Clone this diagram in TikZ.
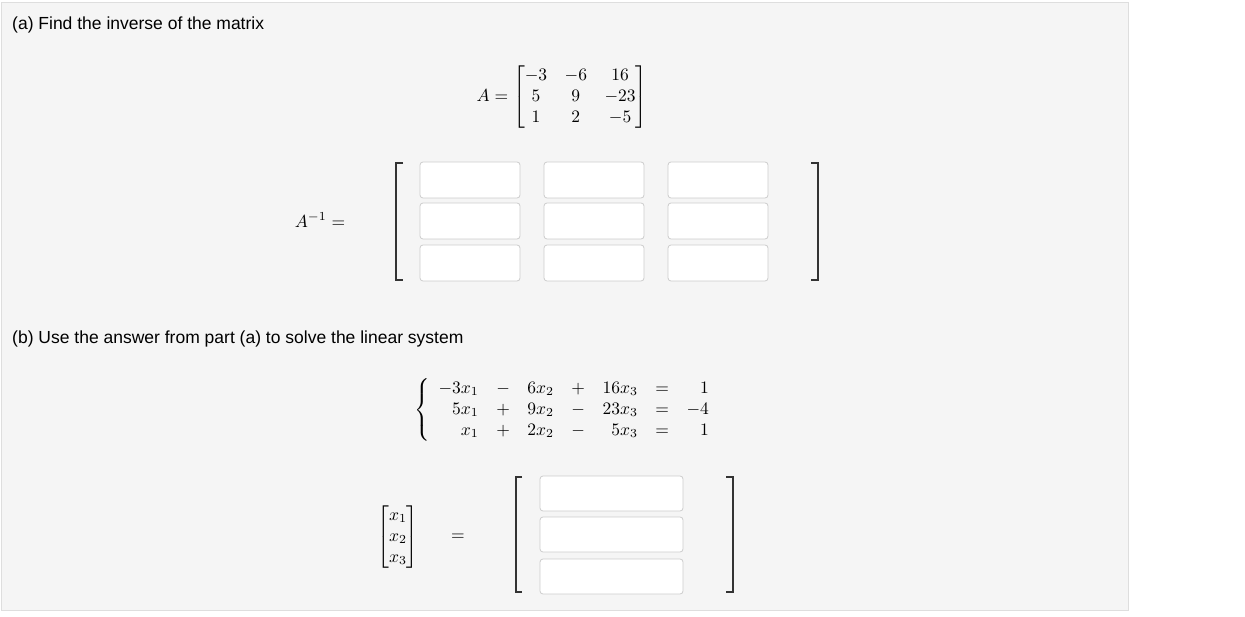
\documentclass[tikz,border=0pt]{standalone}
\usepackage{amsmath}
\usepackage{graphicx}
\usepackage{fontspec}
\newfontfamily\uisans{Liberation Sans}
\newcommand{\mybigmath}[1]{\scalebox{1.75}{#1}}
\begin{document}
\begin{tikzpicture}[x=1pt,y=-1pt,
  ans/.style={draw=black!20,fill=white,rounded corners=3pt,line width=0.8pt},
  brk/.style={line width=1.2pt,black!80},
  lbl/.style={font=\uisans\fontsize{17.5}{20}\selectfont,anchor=west,inner sep=0pt},
  mth/.style={inner sep=0pt}]
\useasboundingbox (0,0) rectangle (1245,617);
\draw[fill=black!4,draw=black!13] (1,2) rectangle (1128,610);
\node[lbl] (ta) at (12,25) {(a) Find the inverse of the matrix};
\node[mth] (A) at (562,97) {\mybigmath{$A=\begin{bmatrix}-3&-6&16\\5&9&-23\\1&2&-5\end{bmatrix}$}};
\node[mth] (Ainv) at (320,220) {\mybigmath{$A^{-1}=$}};
\draw[brk] (403,163) -- (396,163) -- (396,280) -- (403,280);
\draw[brk] (811,163) -- (818,163) -- (818,280) -- (811,280);
\foreach \c/\x in {1/420,2/544,3/668}{
  \foreach \r/\y in {1/162,2/203,3/245}{
    \draw[ans] (\x,\y) rectangle ++(100,36);
  }}
\node[lbl] (tb) at (12,339) {(b) Use the answer from part (a) to solve the linear system};
\node[mth] (sys) at (567,410) {\mybigmath{$\left\{\begin{array}{rcrcrcr}
-3x_1&-&6x_2&+&16x_3&=&1\\
5x_1&+&9x_2&-&23x_3&=&-4\\
x_1&+&2x_2&-&5x_3&=&1
\end{array}\right.$}};
\node[mth] (xv) at (398,537) {\mybigmath{$\begin{bmatrix}x_1\\x_2\\x_3\end{bmatrix}$}};
\node[mth] (eq) at (458,537) {\mybigmath{$=$}};
\draw[brk] (522,477) -- (516,477) -- (516,592) -- (522,592);
\draw[brk] (726,477) -- (733,477) -- (733,592) -- (726,592);
\foreach \r/\y in {1/476,2/517,3/559}{
  \draw[ans] (540,\y) rectangle ++(143,35);
}
\end{tikzpicture}
\end{document}
